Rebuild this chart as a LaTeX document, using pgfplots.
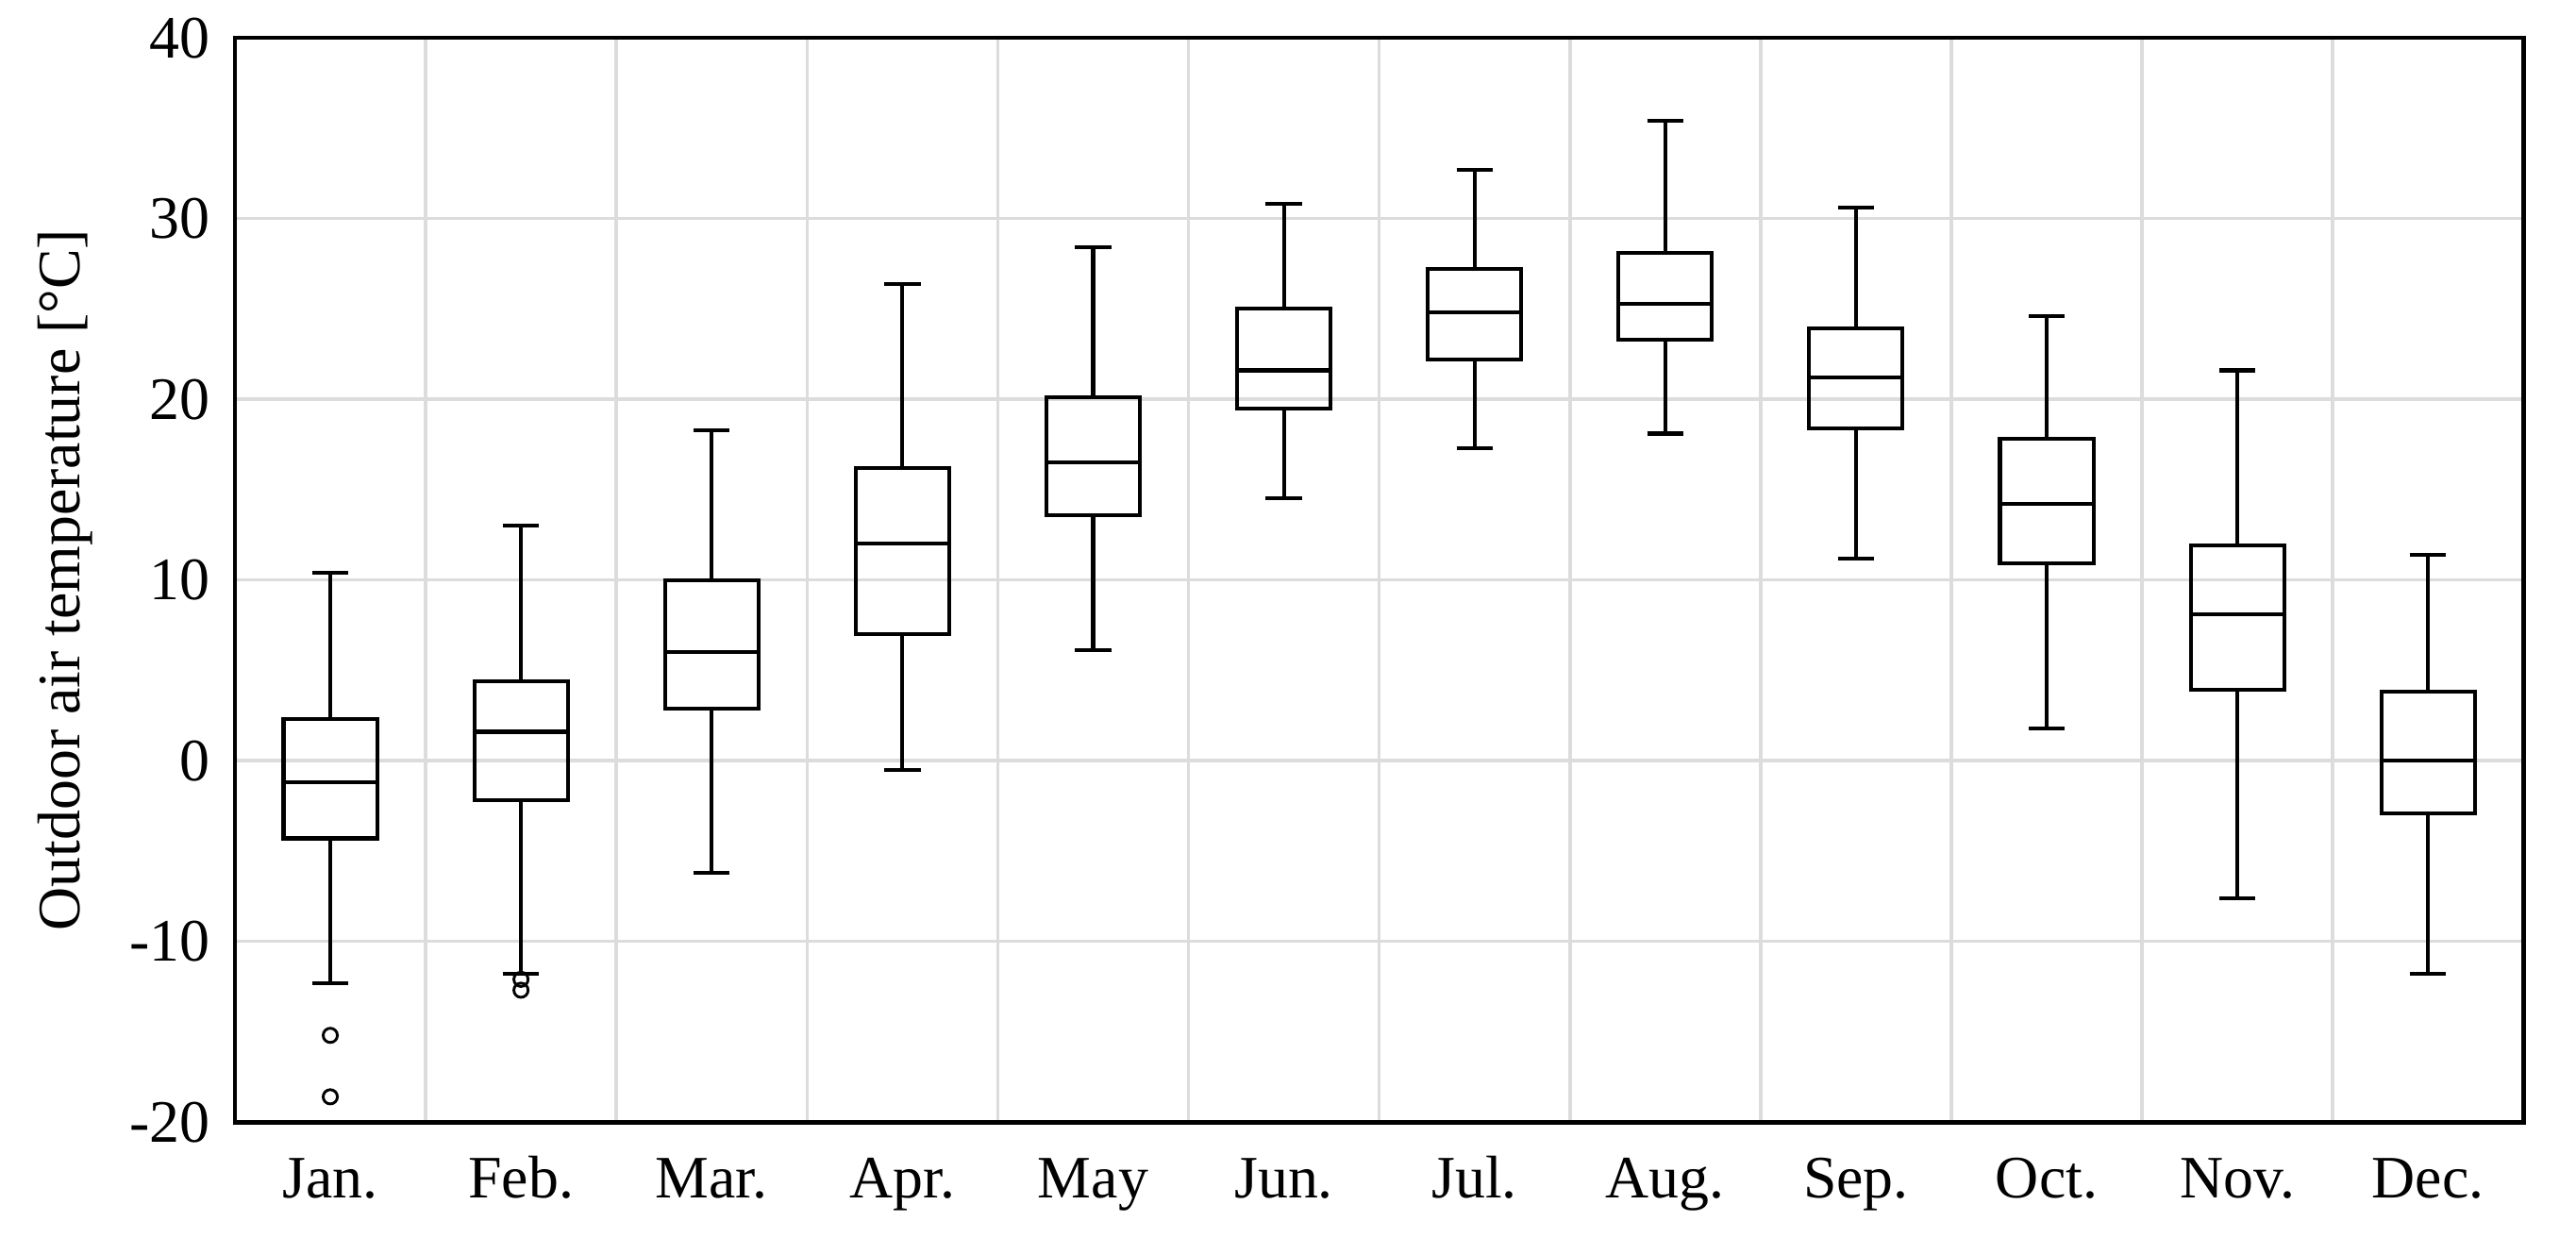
\documentclass[border=0pt]{standalone}
\usepackage{fontspec}
\setmainfont{Liberation Serif}
\usepackage{pgfplots}
\pgfplotsset{compat=1.18}
\usepgfplotslibrary{statistics}
\definecolor{gridgray}{RGB}{220,220,220}
\begin{document}
\begin{tikzpicture}
\begin{axis}[
  at={(0,0)}, anchor=south west,
  scale only axis,
  width=417.9pt, height=198pt,
  xmin=0.5, xmax=12.5,
  ymin=-20, ymax=40,
  ytick={-20,-10,0,10,20,30,40},
  xtick={1,2,3,4,5,6,7,8,9,10,11,12},
  xticklabels={Jan.,Feb.,Mar.,Apr.,May,Jun.,Jul.,Aug.,Sep.,Oct.,Nov.,Dec.},
  minor xtick={1.5,2.5,3.5,4.5,5.5,6.5,7.5,8.5,9.5,10.5,11.5},
  xmajorgrids=false, xminorgrids=true, ymajorgrids=true,
  grid style={gridgray, line width=0.6pt},
  minor grid style={gridgray, line width=0.6pt},
  major tick length=0pt, minor tick length=0pt,
  axis line style={black, line width=0.8pt},
  tick label style={font=\fontsize{11}{13}\selectfont},
  /pgf/number format/assume math mode=true,
  yticklabel style={xshift=-1pt},
  xticklabel style={yshift=-3pt, text height=1.6ex, text depth=0.3ex},
  ylabel={Outdoor air temperature [°C]},
  every axis y label/.style={at={(axis description cs:0,0.5)}, xshift=-31pt, rotate=90, anchor=center, font=\fontsize{11}{13}\selectfont},
  boxplot/draw direction=y,
  boxplot/box extend=0.49,
  boxplot/whisker extend=0.19,
]
\addplot[black, line width=0.7pt, mark=o, mark size=1.3pt, mark options={line width=0.5pt},
  boxplot prepared={draw position=1, lower whisker=-12.3, lower quartile=-4.3, median=-1.2, upper quartile=2.3, upper whisker=10.4}]
  table[row sep=\\, y index=0]{data\\ -15.2\\ -18.6\\};
\addplot[black, line width=0.7pt, mark=o, mark size=1.3pt, mark options={line width=0.5pt},
  boxplot prepared={draw position=2, lower whisker=-11.8, lower quartile=-2.2, median=1.6, upper quartile=4.4, upper whisker=13.0}]
  table[row sep=\\, y index=0]{data\\ -12.1\\ -12.7\\};
\addplot[black, line width=0.7pt,
  boxplot prepared={draw position=3, lower whisker=-6.2, lower quartile=2.9, median=6.0, upper quartile=10.0, upper whisker=18.3}]
  coordinates {};
\addplot[black, line width=0.7pt,
  boxplot prepared={draw position=4, lower whisker=-0.5, lower quartile=7.0, median=12.0, upper quartile=16.2, upper whisker=26.4}]
  coordinates {};
\addplot[black, line width=0.7pt,
  boxplot prepared={draw position=5, lower whisker=6.1, lower quartile=13.6, median=16.5, upper quartile=20.1, upper whisker=28.4}]
  coordinates {};
\addplot[black, line width=0.7pt,
  boxplot prepared={draw position=6, lower whisker=14.5, lower quartile=19.5, median=21.6, upper quartile=25.0, upper whisker=30.8}]
  coordinates {};
\addplot[black, line width=0.7pt,
  boxplot prepared={draw position=7, lower whisker=17.3, lower quartile=22.2, median=24.8, upper quartile=27.2, upper whisker=32.7}]
  coordinates {};
\addplot[black, line width=0.7pt,
  boxplot prepared={draw position=8, lower whisker=18.1, lower quartile=23.3, median=25.3, upper quartile=28.1, upper whisker=35.4}]
  coordinates {};
\addplot[black, line width=0.7pt,
  boxplot prepared={draw position=9, lower whisker=11.2, lower quartile=18.4, median=21.2, upper quartile=23.9, upper whisker=30.6}]
  coordinates {};
\addplot[black, line width=0.7pt,
  boxplot prepared={draw position=10, lower whisker=1.8, lower quartile=10.9, median=14.2, upper quartile=17.8, upper whisker=24.6}]
  coordinates {};
\addplot[black, line width=0.7pt,
  boxplot prepared={draw position=11, lower whisker=-7.6, lower quartile=3.9, median=8.1, upper quartile=11.9, upper whisker=21.6}]
  coordinates {};
\addplot[black, line width=0.7pt,
  boxplot prepared={draw position=12, lower whisker=-11.8, lower quartile=-2.9, median=0.0, upper quartile=3.8, upper whisker=11.4}]
  coordinates {};
\end{axis}
\pgfresetboundingbox
\path (-42.9pt,-21.0pt) rectangle (427.5pt,204.9pt);
\end{tikzpicture}
\end{document}
